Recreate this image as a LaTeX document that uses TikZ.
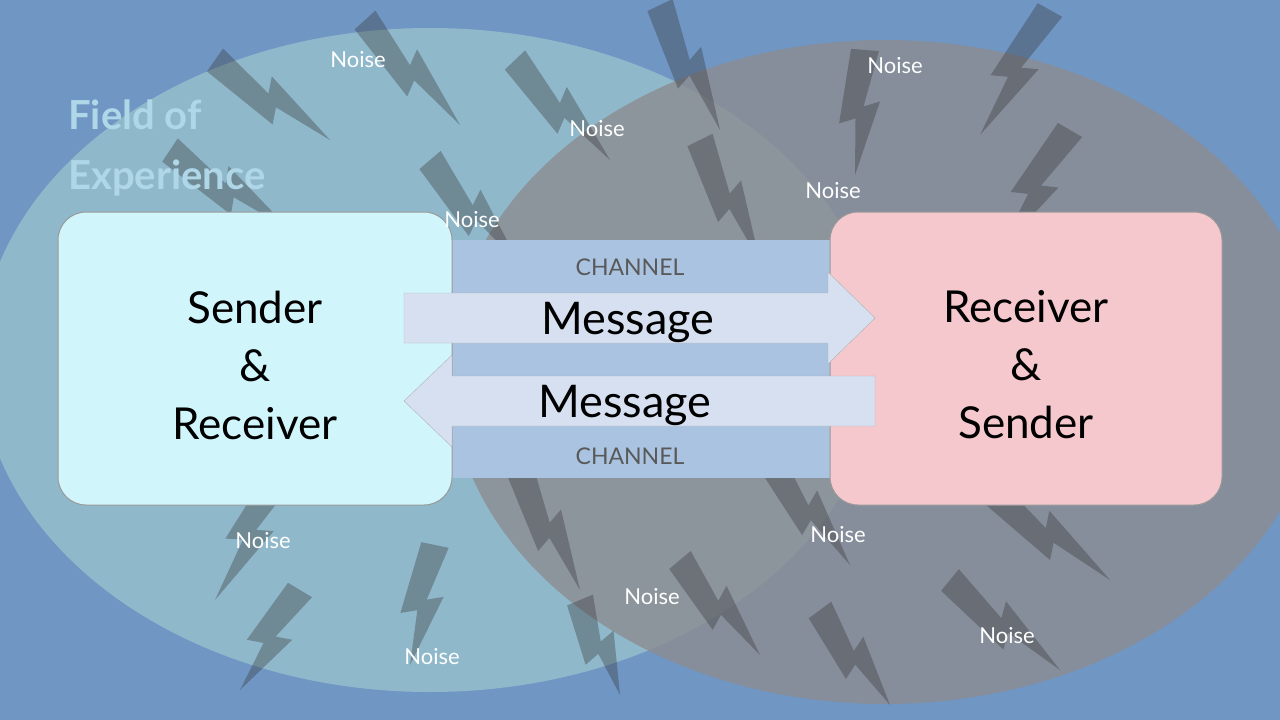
\documentclass[tikz,border=0pt]{standalone}
\usepackage{fontspec}
\setmainfont{Lato}
\usetikzlibrary{calc,shapes.arrows}
\begin{document}
\newcommand\mybolt[4]{%
\coordinate (ba) at (#1,#2); \coordinate (bb) at (#3,#4);
\fill[boltc] ($(ba)!14pt!-90:(bb)$) -- ($(ba)!14pt!90:(bb)$) -- ($(ba)!0.45!(bb)!3pt!90:(bb)$) -- ($(ba)!0.40!(bb)!19pt!90:(bb)$) -- (bb) -- ($(ba)!0.55!(bb)!4pt!-90:(bb)$) -- ($(ba)!0.60!(bb)!20pt!-90:(bb)$) -- cycle;}
\begin{tikzpicture}[x=1pt,y=-1pt,
 boltc/.style={fill=black!80,opacity=0.35},
 noise/.style={text=white,font=\fontsize{22}{24}\selectfont},
 box/.style={rounded corners=28pt,draw=black!40,line width=1pt},
 big/.style={font=\fontsize{44}{58}\selectfont,align=center},
 chan/.style={text=black!65,font=\fontsize{23}{24}\selectfont}]
\useasboundingbox (0,0) rectangle (1280,720);
\fill[color={rgb,255:red,112;green,150;blue,196}] (0,0) rectangle (1280,720);
\fill[color={rgb,255:red,150;green,190;blue,205},opacity=0.85] (430,360) ellipse [x radius=450,y radius=332];
\fill[color={rgb,255:red,140;green,140;blue,145},opacity=0.8] (885,372) ellipse [x radius=435,y radius=332];
\mybolt{215}{60}{330}{140}
\mybolt{365}{20}{460}{125}
\mybolt{515}{60}{610}{160}
\mybolt{660}{5}{720}{130}
\mybolt{700}{140}{760}{262}
\mybolt{865}{50}{855}{175}
\mybolt{1050}{10}{980}{135}
\mybolt{1070}{130}{1000}{250}
\mybolt{170}{150}{290}{230}
\mybolt{430}{160}{520}{265}
\mybolt{285}{470}{215}{600}
\mybolt{300}{590}{240}{690}
\mybolt{435}{545}{410}{665}
\mybolt{520}{470}{580}{590}
\mybolt{580}{600}{620}{695}
\mybolt{680}{560}{760}{655}
\mybolt{770}{460}{850}{565}
\mybolt{990}{490}{1110}{580}
\mybolt{950}{580}{1060}{670}
\mybolt{820}{610}{890}{705}
\node[anchor=north west,align=left,inner sep=0pt,text={rgb,255:red,175;green,215;blue,232},font=\bfseries\fontsize{40}{60}\selectfont] (foe) at (68,100) {Field of\\Experience};
\fill[color={rgb,255:red,170;green,195;blue,225}] (452,240) rectangle (830,478);
\draw[box,fill={rgb,255:red,208;green,246;blue,252}] (58,212) rectangle (452,505);
\draw[box,fill={rgb,255:red,245;green,200;blue,205}] (830,212) rectangle (1222,505);
\node[big] (s) at (255,365) {Sender\\\&\\Receiver};
\node[big] (r) at (1026,365) {Receiver\\\&\\Sender};
\node[chan] (c1) at (630,267) {CHANNEL};
\node[chan] (c2) at (630,456) {CHANNEL};
\fill[draw=black!30,fill={rgb,255:red,214;green,224;blue,240}] (404,293) -- (828,293) -- (828,272) -- (875,318) -- (828,364) -- (828,343) -- (404,343) -- cycle;
\fill[draw=black!30,fill={rgb,255:red,214;green,224;blue,240}] (875,376) -- (452,376) -- (452,355) -- (404,401) -- (452,447) -- (452,426) -- (875,426) -- cycle;
\node[font=\fontsize{45}{48}\selectfont] (m1) at (628,322) {Message};
\node[font=\fontsize{45}{48}\selectfont] (m2) at (625,405) {Message};
\node[noise] (n1) at (358,60) {Noise};
\node[noise] (n2) at (597,129) {Noise};
\node[noise] (n3) at (895,66) {Noise};
\node[noise] (n4) at (833,191) {Noise};
\node[noise] (n5) at (472,220) {Noise};
\node[noise] (n6) at (263,541) {Noise};
\node[noise] (n7) at (838,535) {Noise};
\node[noise] (n8) at (652,597) {Noise};
\node[noise] (n9) at (1007,636) {Noise};
\node[noise] (n10) at (432,657) {Noise};
\end{tikzpicture}
\end{document}
